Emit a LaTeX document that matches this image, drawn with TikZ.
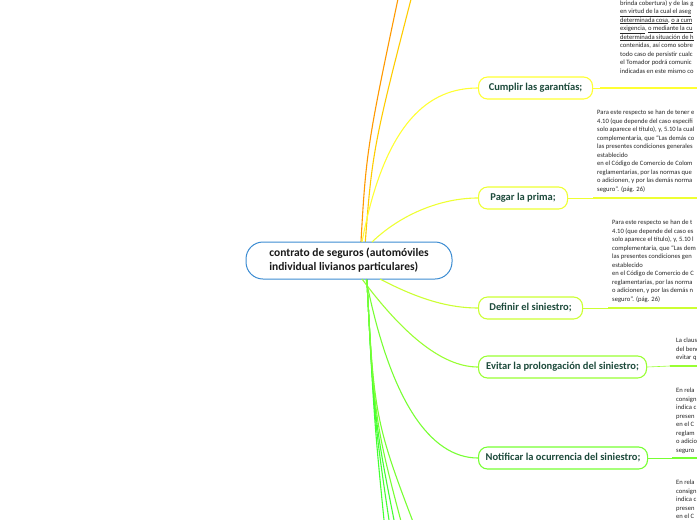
\documentclass[tikz,border=0pt]{standalone}
\usepackage{fontspec}
\setmainfont{Carlito}
\begin{document}
\begin{tikzpicture}[x=1pt,y=-1pt,
  br/.style={draw=#1,line width=1.1pt,rounded corners=9pt,fill=white,minimum height=22pt,inner xsep=4pt,font=\fontsize{10.5}{11}\selectfont\bfseries,text={rgb,255:red,30;green,75;blue,60},anchor=west},
  cn/.style={#1,line width=1.1pt},
  ul/.style={#1,line width=2pt},
  txt/.style={anchor=north west,align=left,inner sep=0pt,font=\fontsize{6.6}{8.5}\selectfont,text=black!85}]
\useasboundingbox (0,0) rectangle (697,520);
\begin{scope}
\clip (0,0) rectangle (697,520);
\definecolor{c0}{HTML}{FF9900}\definecolor{c1}{HTML}{FFCC00}
\definecolor{c2}{HTML}{FFFF33}\definecolor{c3}{HTML}{EEFF33}
\definecolor{c4}{HTML}{CCFF33}\definecolor{c5}{HTML}{99FF33}
\definecolor{c6}{HTML}{77FF33}\definecolor{c7}{HTML}{44FF33}
\coordinate (t0) at (402,-20); \coordinate (t1) at (416,-20);
\coordinate (b1) at (386,540); \coordinate (b2) at (392,540);
\coordinate (b3) at (398,540); \coordinate (b4) at (406,540);
\coordinate (b5) at (420,540);
\draw[cn=c0] (360,260) .. controls (366,150) .. (t0);
\draw[cn=c1] (364,260) .. controls (372,150) .. (t1);
\foreach \b/\c in {b1/c7,b2/c7,b3/c7,b4/c6,b5/c6}{\draw[cn=\c] (366,262) .. controls (374,420) .. (\b);}
\node[draw={rgb,255:red,60;green,140;blue,210},line width=1pt,rounded corners=17pt,fill=white,minimum width=206pt,minimum height=37pt,align=left,font=\fontsize{11.5}{14}\selectfont\bfseries,text=black!90] (c) at (349,260.5) {contrato de seguros (automóviles\\individual livianos particulares)};
\node[br=c2,minimum width=114pt] (n1) at (478,88) {Cumplir las garantías;};
\node[br=c3,minimum width=89pt] (n2) at (478,198) {Pagar la prima;};
\node[br=c4,minimum width=104pt] (n3) at (478,308) {Definir el siniestro;};
\node[br=c5,minimum width=168pt] (n4) at (478,367) {Evitar la prolongación del siniestro;};
\node[br=c6,minimum width=169pt] (n5) at (478,458) {Notificar la ocurrencia del siniestro;};
\draw[cn=c2] (362,242) .. controls (385,120) and (430,88) .. (n1.west);
\draw[cn=c3] (372,242) .. controls (400,215) and (440,198) .. (n2.west);
\draw[cn=c4] (380,279) .. controls (420,300) and (450,308) .. (n3.west);
\draw[cn=c5] (362,279) .. controls (400,330) and (440,367) .. (n4.west);
\draw[cn=c6] (366,279) .. controls (390,400) and (430,458) .. (n5.west);
\coordinate (u1) at (600,88); \coordinate (u2) at (593,198); \coordinate (u3) at (608,308);
\coordinate (u4) at (670,366); \coordinate (u5) at (672,458); \coordinate (e) at (697,0);
\draw[c2,line width=0.6pt] (n1.east) -- (u1); \draw[ul=c2] (u1) -- (u1 -| e);
\draw[c3,line width=0.6pt] (n2.east) -- (u2); \draw[ul=c3] (u2) -- (u2 -| e);
\draw[c4,line width=0.6pt] (n3.east) -- (u3); \draw[ul=c4] (u3) -- (u3 -| e);
\draw[c5,line width=0.6pt] (n4.east) -- (u4); \draw[ul=c5] (u4) -- (u4 -| e);
\draw[c6,line width=0.6pt] (n5.east) -- (u5); \draw[ul=c6] (u5) -- (u5 -| e);
\node[txt] (p1) at (620,0) {brinda cobertura) y de las g\\\underline{en virtud de la cual el aseg}\\\underline{determinada cosa}, \underline{o a cum}\\\underline{exigencia}, \underline{o mediante la cu}\\\underline{determinada situación de h}\\contenidas, así como sobre\\todo caso de persistir cualc\\el Tomador podrá comunic\\indicadas en este mismo co};
\node[txt] (p2) at (597,110) {Para este respecto se han de tener e\\4.10 (que depende del caso específi\\solo aparece el título), y, 5.10 la cual\\complementaria, que “Las demás co\\las presentes condiciones generales\\establecido\\en el Código de Comercio de Colom\\reglamentarias, por las normas que\\o adicionen, y por las demás norma\\seguro”. (pág. 26)};
\node[txt] (p3) at (612,220) {Para este respecto se han de t\\4.10 (que depende del caso es\\solo aparece el título), y, 5.10 l\\complementaria, que “Las dem\\las presentes condiciones gen\\establecido\\en el Código de Comercio de C\\reglamentarias, por las norma\\o adicionen, y por las demás n\\seguro”. (pág. 26)};
\node[txt] (p4) at (676,338) {La claus\\del bene\\evitar q};
\node[txt] (p5) at (676,388) {En rela\\consign\\indica c\\presen\\en el C\\reglam\\o adicio\\seguro};
\node[txt] (p6) at (676,480) {En rela\\consign\\indica c\\presen\\en el C};
\end{scope}
\end{tikzpicture}
\end{document}
